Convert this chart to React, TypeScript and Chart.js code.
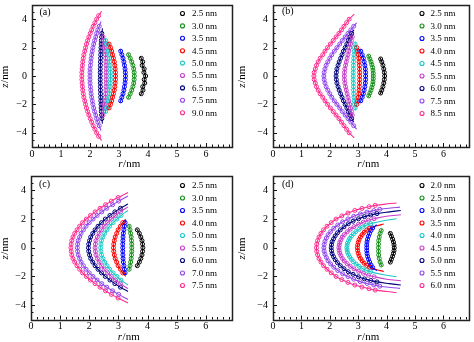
import React, { useEffect, useRef } from 'react';
import { Chart, registerables } from 'chart.js';
Chart.register(...registerables);

type P = [number, number]; // [r (nm), z (nm)]

const X_TICKS = [0, 1, 2, 3, 4, 5, 6];
const Y_TICKS = [-4, -2, 0, 2, 4];
const X_MIN = 0, X_MAX = 6.9, Y_MIN = -5, Y_MAX = 5;
const COLORS = ['#000000', '#17901a', '#0000ff', '#ff0000', '#1ec8c8', '#c83cc8', '#00007e', '#9147ec', '#ff2d8f'];

// ---------------- panel (a) ----------------
const A_LABELS = ['2.5 nm', '3.0 nm', '3.5 nm', '4.5 nm', '5.0 nm', '5.5 nm', '6.5 nm', '7.5 nm', '9.0 nm'];
const A_25: P[] = [[3.77,1.25],[3.82,1.0],[3.80,0.75],[3.87,0.5],[3.86,0.25],[3.92,0],[3.87,-0.25],[3.89,-0.5],[3.82,-0.75],[3.83,-1.0],[3.77,-1.25]];
const A_30: P[] = [[3.33,1.5],[3.39,1.25],[3.44,1.0],[3.48,0.75],[3.51,0.5],[3.525,0.25],[3.53,0],[3.525,-0.25],[3.51,-0.5],[3.48,-0.75],[3.44,-1.0],[3.39,-1.25],[3.33,-1.5]];
const A_35: P[] = [[3.06,1.75],[3.10,1.5],[3.14,1.25],[3.17,1.0],[3.19,0.75],[3.21,0.5],[3.22,0.25],[3.225,0],[3.22,-0.25],[3.21,-0.5],[3.19,-0.75],[3.17,-1.0],[3.14,-1.25],[3.10,-1.5],[3.06,-1.75]];
const A_45: P[] = [[2.66,2.25],[2.71,2.0],[2.75,1.75],[2.78,1.5],[2.81,1.25],[2.84,1.0],[2.86,0.75],[2.87,0.5],[2.88,0.25],[2.88,0],[2.88,-0.25],[2.87,-0.5],[2.86,-0.75],[2.84,-1.0],[2.81,-1.25],[2.78,-1.5],[2.75,-1.75],[2.71,-2.0],[2.66,-2.25]];
const A_50: P[] = [[2.54,2.5],[2.57,2.25],[2.60,2.0],[2.63,1.75],[2.65,1.5],[2.67,1.25],[2.68,1.0],[2.695,0.75],[2.70,0.5],[2.71,0.25],[2.71,0],[2.71,-0.25],[2.70,-0.5],[2.695,-0.75],[2.68,-1.0],[2.67,-1.25],[2.65,-1.5],[2.63,-1.75],[2.60,-2.0],[2.57,-2.25],[2.54,-2.5]];
const A_55: P[] = [[2.45,2.75],[2.47,2.5],[2.49,2.25],[2.50,2.0],[2.52,1.75],[2.53,1.5],[2.54,1.25],[2.55,1.0],[2.555,0.75],[2.56,0.5],[2.56,0.25],[2.56,0],[2.56,-0.25],[2.56,-0.5],[2.555,-0.75],[2.55,-1.0],[2.54,-1.25],[2.53,-1.5],[2.52,-1.75],[2.50,-2.0],[2.49,-2.25],[2.47,-2.5],[2.45,-2.75]];
const A_65: P[] = [[2.41,3.0],[2.40,2.75],[2.39,2.5],[2.385,2.25],[2.38,2.0],[2.375,1.75],[2.37,1.5],[2.365,1.25],[2.36,1.0],[2.36,0.75],[2.355,0.5],[2.355,0.25],[2.355,0],[2.355,-0.25],[2.355,-0.5],[2.36,-0.75],[2.36,-1.0],[2.365,-1.25],[2.37,-1.5],[2.375,-1.75],[2.38,-2.0],[2.385,-2.25],[2.39,-2.5],[2.40,-2.75],[2.41,-3.0]];
const A_75: P[] = [[2.32,3.5],[2.27,3.25],[2.23,3.0],[2.20,2.75],[2.16,2.5],[2.13,2.25],[2.10,2.0],[2.08,1.75],[2.06,1.5],[2.04,1.25],[2.03,1.0],[2.015,0.75],[2.005,0.5],[2.0,0.25],[2.0,0],[2.0,-0.25],[2.005,-0.5],[2.015,-0.75],[2.03,-1.0],[2.04,-1.25],[2.06,-1.5],[2.08,-1.75],[2.10,-2.0],[2.13,-2.25],[2.16,-2.5],[2.20,-2.75],[2.23,-3.0],[2.27,-3.25],[2.32,-3.5]];
const A_90: P[] = [[2.30,4.25],[2.23,4.0],[2.17,3.75],[2.11,3.5],[2.06,3.25],[2.01,3.0],[1.96,2.75],[1.92,2.5],[1.88,2.25],[1.85,2.0],[1.82,1.75],[1.79,1.5],[1.77,1.25],[1.75,1.0],[1.74,0.75],[1.73,0.5],[1.72,0.25],[1.72,0],[1.72,-0.25],[1.73,-0.5],[1.74,-0.75],[1.75,-1.0],[1.77,-1.25],[1.79,-1.5],[1.82,-1.75],[1.85,-2.0],[1.88,-2.25],[1.92,-2.5],[1.96,-2.75],[2.01,-3.0],[2.06,-3.25],[2.11,-3.5],[2.17,-3.75],[2.23,-4.0],[2.30,-4.25]];
const A_POINTS = [A_25, A_30, A_35, A_45, A_50, A_55, A_65, A_75, A_90];
const A_FIT_TOP: P[][] = [[[3.74,1.35]],[[3.30,1.62]],[[3.03,1.88]],[[2.63,2.4]],[[2.51,2.65]],[[2.43,2.95]],[[2.43,3.35]],[[2.38,3.85]],[[2.40,4.55]]];
const A_FIT_BOT: P[][] = [[[3.74,-1.35]],[[3.30,-1.62]],[[3.03,-1.88]],[[2.63,-2.4]],[[2.51,-2.65]],[[2.43,-2.95]],[[2.43,-3.35]],[[2.38,-3.85]],[[2.40,-4.55]]];

// ---------------- panel (b) ----------------
const B_LABELS = ['2.5 nm', '3.0 nm', '3.5 nm', '4.0 nm', '4.5 nm', '5.5 nm', '6.0 nm', '7.5 nm', '8.5 nm'];
const B_25: P[] = [[3.79,1.2],[3.83,1.0],[3.87,0.75],[3.90,0.5],[3.92,0.25],[3.93,0],[3.92,-0.25],[3.90,-0.5],[3.87,-0.75],[3.83,-1.0],[3.79,-1.2]];
const B_30: P[] = [[3.37,1.4],[3.41,1.2],[3.45,1.0],[3.48,0.8],[3.51,0.6],[3.52,0.4],[3.53,0.2],[3.53,0],[3.53,-0.2],[3.52,-0.4],[3.51,-0.6],[3.48,-0.8],[3.45,-1.0],[3.41,-1.2],[3.37,-1.4]];
const B_35: P[] = [[3.09,1.75],[3.14,1.5],[3.18,1.25],[3.21,1.0],[3.235,0.75],[3.25,0.5],[3.26,0.25],[3.26,0],[3.26,-0.25],[3.25,-0.5],[3.235,-0.75],[3.21,-1.0],[3.18,-1.25],[3.14,-1.5],[3.09,-1.75]];
const B_40: P[] = [[2.95,2.0],[2.98,1.75],[3.0,1.5],[3.02,1.25],[3.03,1.0],[3.04,0.75],[3.045,0.5],[3.05,0.25],[3.05,0],[3.05,-0.25],[3.045,-0.5],[3.04,-0.75],[3.03,-1.0],[3.02,-1.25],[3.0,-1.5],[2.98,-1.75],[2.95,-2.0]];
const B_45: P[] = [[2.89,2.25],[2.87,2.0],[2.86,1.75],[2.85,1.5],[2.84,1.25],[2.835,1.0],[2.83,0.75],[2.83,0.5],[2.825,0.25],[2.825,0],[2.825,-0.25],[2.83,-0.5],[2.83,-0.75],[2.835,-1.0],[2.84,-1.25],[2.85,-1.5],[2.86,-1.75],[2.87,-2.0],[2.89,-2.25]];
const B_55: P[] = [[2.79,2.75],[2.76,2.5],[2.73,2.25],[2.70,2.0],[2.67,1.75],[2.64,1.5],[2.61,1.25],[2.58,1.0],[2.555,0.75],[2.53,0.5],[2.515,0.25],[2.51,0],[2.515,-0.25],[2.53,-0.5],[2.555,-0.75],[2.58,-1.0],[2.61,-1.25],[2.64,-1.5],[2.67,-1.75],[2.70,-2.0],[2.73,-2.25],[2.76,-2.5],[2.79,-2.75]];
const B_60: P[] = [[2.77,3.0],[2.71,2.75],[2.65,2.5],[2.60,2.25],[2.54,2.0],[2.48,1.75],[2.43,1.5],[2.38,1.25],[2.33,1.0],[2.29,0.75],[2.25,0.5],[2.23,0.25],[2.22,0],[2.23,-0.25],[2.25,-0.5],[2.29,-0.75],[2.33,-1.0],[2.38,-1.25],[2.43,-1.5],[2.48,-1.75],[2.54,-2.0],[2.60,-2.25],[2.65,-2.5],[2.71,-2.75],[2.77,-3.0]];
const B_75: P[] = [[2.84,3.5],[2.74,3.25],[2.64,3.0],[2.54,2.75],[2.44,2.5],[2.35,2.25],[2.25,2.0],[2.16,1.75],[2.07,1.5],[2.0,1.25],[1.93,1.0],[1.87,0.75],[1.83,0.5],[1.80,0.25],[1.79,0],[1.80,-0.25],[1.83,-0.5],[1.87,-0.75],[1.93,-1.0],[2.0,-1.25],[2.07,-1.5],[2.16,-1.75],[2.25,-2.0],[2.35,-2.25],[2.44,-2.5],[2.54,-2.75],[2.64,-3.0],[2.74,-3.25],[2.84,-3.5]];
const B_85: P[] = [[2.68,4.0],[2.59,3.75],[2.50,3.5],[2.41,3.25],[2.32,3.0],[2.22,2.75],[2.12,2.5],[2.02,2.25],[1.92,2.0],[1.83,1.75],[1.75,1.5],[1.66,1.25],[1.59,1.0],[1.53,0.75],[1.49,0.5],[1.45,0.25],[1.44,0],[1.45,-0.25],[1.49,-0.5],[1.53,-0.75],[1.59,-1.0],[1.66,-1.25],[1.75,-1.5],[1.83,-1.75],[1.92,-2.0],[2.02,-2.25],[2.12,-2.5],[2.22,-2.75],[2.32,-3.0],[2.41,-3.25],[2.50,-3.5],[2.59,-3.75],[2.68,-4.0]];
const B_POINTS = [B_25, B_30, B_35, B_40, B_45, B_55, B_60, B_75, B_85];
const B_FIT_TOP: P[][] = [[[3.76,1.3]],[[3.34,1.5]],[[3.06,1.88]],[[2.93,2.15]],[[2.91,2.4]],[[2.83,3.0]],[[2.85,3.25]],[[2.95,3.75]],[[2.86,4.35]]];
const B_FIT_BOT: P[][] = [[[3.76,-1.3]],[[3.34,-1.5]],[[3.06,-1.88]],[[2.93,-2.15]],[[2.91,-2.4]],[[2.83,-3.0]],[[2.85,-3.25]],[[2.95,-3.75]],[[2.86,-4.35]]];

// ---------------- panel (c) ----------------
const C_LABELS = ['2.5 nm', '3.0 nm', '3.5 nm', '4.0 nm', '5.0 nm', '5.5 nm', '6.0 nm', '7.0 nm', '7.5 nm'];
const C_25: P[] = [[3.65,1.25],[3.72,1.0],[3.77,0.75],[3.81,0.5],[3.83,0.25],[3.84,0],[3.83,-0.25],[3.81,-0.5],[3.77,-0.75],[3.72,-1.0],[3.65,-1.25]];
const C_30: P[] = [[3.37,1.5],[3.40,1.25],[3.42,1.0],[3.44,0.75],[3.45,0.5],[3.46,0.25],[3.46,0],[3.46,-0.25],[3.45,-0.5],[3.44,-0.75],[3.42,-1.0],[3.40,-1.25],[3.37,-1.5]];
const C_35: P[] = [[3.23,1.75],[3.21,1.5],[3.19,1.25],[3.17,1.0],[3.16,0.75],[3.155,0.5],[3.15,0.25],[3.15,0],[3.15,-0.25],[3.155,-0.5],[3.16,-0.75],[3.17,-1.0],[3.19,-1.25],[3.21,-1.5],[3.23,-1.75]];
const C_40: P[] = [[3.15,1.75],[3.07,1.5],[2.99,1.25],[2.94,1.0],[2.89,0.75],[2.86,0.5],[2.84,0.25],[2.83,0],[2.84,-0.25],[2.86,-0.5],[2.89,-0.75],[2.94,-1.0],[2.99,-1.25],[3.07,-1.5],[3.15,-1.75]];
const C_50: P[] = [[3.09,2.25],[2.95,2.0],[2.82,1.75],[2.70,1.5],[2.61,1.25],[2.53,1.0],[2.47,0.75],[2.42,0.5],[2.40,0.25],[2.39,0],[2.40,-0.25],[2.42,-0.5],[2.47,-0.75],[2.53,-1.0],[2.61,-1.25],[2.70,-1.5],[2.82,-1.75],[2.95,-2.0],[3.09,-2.25]];
const C_55: P[] = [[3.07,2.5],[2.90,2.25],[2.76,2.0],[2.63,1.75],[2.51,1.5],[2.42,1.25],[2.34,1.0],[2.28,0.75],[2.23,0.5],[2.21,0.25],[2.20,0],[2.21,-0.25],[2.23,-0.5],[2.28,-0.75],[2.34,-1.0],[2.42,-1.25],[2.51,-1.5],[2.63,-1.75],[2.76,-2.0],[2.90,-2.25],[3.07,-2.5]];
const C_60: P[] = [[3.07,2.75],[2.88,2.5],[2.71,2.25],[2.55,2.0],[2.42,1.75],[2.30,1.5],[2.20,1.25],[2.12,1.0],[2.05,0.75],[2.01,0.5],[1.98,0.25],[1.97,0],[1.98,-0.25],[2.01,-0.5],[2.05,-0.75],[2.12,-1.0],[2.20,-1.25],[2.30,-1.5],[2.42,-1.75],[2.55,-2.0],[2.71,-2.25],[2.88,-2.5],[3.07,-2.75]];
const C_70: P[] = [[3.01,3.25],[2.80,3.0],[2.60,2.75],[2.43,2.5],[2.27,2.25],[2.13,2.0],[2.0,1.75],[1.89,1.5],[1.80,1.25],[1.72,1.0],[1.67,0.75],[1.62,0.5],[1.60,0.25],[1.59,0],[1.60,-0.25],[1.62,-0.5],[1.67,-0.75],[1.72,-1.0],[1.80,-1.25],[1.89,-1.5],[2.0,-1.75],[2.13,-2.0],[2.27,-2.25],[2.43,-2.5],[2.60,-2.75],[2.80,-3.0],[3.01,-3.25]];
const C_75: P[] = [[2.99,3.5],[2.76,3.25],[2.56,3.0],[2.37,2.75],[2.20,2.5],[2.04,2.25],[1.90,2.0],[1.77,1.75],[1.67,1.5],[1.58,1.25],[1.50,1.0],[1.44,0.75],[1.40,0.5],[1.38,0.25],[1.37,0],[1.38,-0.25],[1.40,-0.5],[1.44,-0.75],[1.50,-1.0],[1.58,-1.25],[1.67,-1.5],[1.77,-1.75],[1.90,-2.0],[2.04,-2.25],[2.20,-2.5],[2.37,-2.75],[2.56,-3.0],[2.76,-3.25],[2.99,-3.5]];
const C_POINTS = [C_25, C_30, C_35, C_40, C_50, C_55, C_60, C_70, C_75];
const C_FIT_TOP: P[][] = [[[3.62,1.32]],[[3.36,1.6]],[[3.26,1.9]],[[3.25,2.0]],[[3.33,2.6]],[[3.33,2.85]],[[3.33,3.05]],[[3.33,3.6]],[[3.33,3.85]]];
const C_FIT_BOT: P[][] = [[[3.62,-1.32]],[[3.36,-1.6]],[[3.26,-1.9]],[[3.25,-2.0]],[[3.33,-2.6]],[[3.33,-2.85]],[[3.33,-3.05]],[[3.33,-3.6]],[[3.33,-3.85]]];

// ---------------- panel (d) ----------------
const D_LABELS = ['2.0 nm', '2.5 nm', '3.0 nm', '3.5 nm', '4.0 nm', '4.5 nm', '5.0 nm', '5.5 nm', '6.0 nm'];
const D_20: P[] = [[4.13,1.0],[4.17,0.8],[4.21,0.6],[4.24,0.4],[4.26,0.2],[4.27,0],[4.26,-0.2],[4.24,-0.4],[4.21,-0.6],[4.17,-0.8],[4.13,-1.0]];
const D_25: P[] = [[3.81,1.2],[3.77,1.0],[3.74,0.75],[3.72,0.5],[3.715,0.25],[3.71,0],[3.715,-0.25],[3.72,-0.5],[3.74,-0.75],[3.77,-1.0],[3.81,-1.2]];
const D_30: P[] = [[3.51,1.38],[3.45,1.2],[3.40,1.0],[3.36,0.8],[3.33,0.6],[3.31,0.4],[3.30,0.2],[3.30,0],[3.30,-0.2],[3.31,-0.4],[3.33,-0.6],[3.36,-0.8],[3.40,-1.0],[3.45,-1.2],[3.51,-1.38]];
const D_35: P[] = [[3.40,1.35],[3.30,1.23],[3.21,1.08],[3.14,0.92],[3.08,0.75],[3.03,0.57],[3.0,0.38],[2.98,0.19],[2.97,0],[2.98,-0.19],[3.0,-0.38],[3.03,-0.57],[3.08,-0.75],[3.14,-0.92],[3.21,-1.08],[3.30,-1.23],[3.40,-1.35]];
const D_40: P[] = [[3.44,1.68],[3.29,1.57],[3.15,1.44],[3.03,1.29],[2.92,1.13],[2.83,0.97],[2.76,0.81],[2.70,0.65],[2.66,0.49],[2.62,0.32],[2.61,0.16],[2.60,0],[2.61,-0.16],[2.62,-0.32],[2.66,-0.49],[2.70,-0.65],[2.76,-0.81],[2.83,-0.97],[2.92,-1.13],[3.03,-1.29],[3.15,-1.44],[3.29,-1.57],[3.44,-1.68]];
const D_45: P[] = [[3.56,2.02],[3.36,1.92],[3.18,1.78],[3.01,1.64],[2.85,1.47],[2.72,1.29],[2.61,1.11],[2.51,0.92],[2.44,0.74],[2.39,0.55],[2.35,0.37],[2.33,0.18],[2.32,0],[2.33,-0.18],[2.35,-0.37],[2.39,-0.55],[2.44,-0.74],[2.51,-0.92],[2.61,-1.11],[2.72,-1.29],[2.85,-1.47],[3.01,-1.64],[3.18,-1.78],[3.36,-1.92],[3.56,-2.02]];
const D_50: P[] = [[3.66,2.38],[3.44,2.28],[3.22,2.17],[3.01,2.02],[2.82,1.85],[2.65,1.67],[2.50,1.46],[2.37,1.25],[2.27,1.04],[2.19,0.83],[2.13,0.62],[2.08,0.42],[2.06,0.21],[2.05,0],[2.06,-0.21],[2.08,-0.42],[2.13,-0.62],[2.19,-0.83],[2.27,-1.04],[2.37,-1.25],[2.50,-1.46],[2.65,-1.67],[2.82,-1.85],[3.01,-2.02],[3.22,-2.17],[3.44,-2.28],[3.66,-2.38]];
const D_55: P[] = [[3.76,2.68],[3.55,2.59],[3.31,2.49],[3.07,2.36],[2.84,2.19],[2.64,2.01],[2.45,1.81],[2.28,1.59],[2.14,1.36],[2.03,1.13],[1.94,0.91],[1.88,0.68],[1.83,0.45],[1.80,0.23],[1.79,0],[1.80,-0.23],[1.83,-0.45],[1.88,-0.68],[1.94,-0.91],[2.03,-1.13],[2.14,-1.36],[2.28,-1.59],[2.45,-1.81],[2.64,-2.01],[2.84,-2.19],[3.07,-2.36],[3.31,-2.49],[3.55,-2.59],[3.76,-2.68]];
const D_60: P[] = [[3.60,2.95],[3.38,2.86],[3.13,2.74],[2.88,2.60],[2.64,2.42],[2.42,2.22],[2.22,2.0],[2.05,1.75],[1.90,1.5],[1.78,1.25],[1.69,1.0],[1.62,0.75],[1.57,0.5],[1.54,0.25],[1.53,0],[1.54,-0.25],[1.57,-0.5],[1.62,-0.75],[1.69,-1.0],[1.78,-1.25],[1.90,-1.5],[2.05,-1.75],[2.22,-2.0],[2.42,-2.22],[2.64,-2.42],[2.88,-2.60],[3.13,-2.74],[3.38,-2.86],[3.60,-2.95]];
const D_POINTS = [D_20, D_25, D_30, D_35, D_40, D_45, D_50, D_55, D_60];
const D_FIT_TOP: P[][] = [[[4.10,1.1]],[[3.84,1.3]],[[3.65,1.6]],[[3.90,1.65],[3.65,1.53]],[[4.35,2.02],[3.85,1.87]],[[4.50,2.30],[4.00,2.19]],[[4.50,2.60],[4.10,2.50]],[[4.47,2.83],[4.14,2.77]],[[4.35,3.12],[4.0,3.05]]];
const D_FIT_BOT: P[][] = [[[4.10,-1.1]],[[3.84,-1.3]],[[3.65,-1.6]],[[3.65,-1.53],[3.90,-1.65]],[[3.85,-1.87],[4.35,-2.02]],[[4.00,-2.19],[4.50,-2.30]],[[4.10,-2.50],[4.50,-2.60]],[[4.14,-2.77],[4.47,-2.83]],[[4.0,-3.05],[4.35,-3.12]]];

// ---------------- layout (styling only) ----------------
const W = 237, H = 171;
type Panel = {
  tag: string; labels: string[]; points: P[][]; fitTop: P[][]; fitBot: P[][];
  left: number; top: number;
  area: { l: number; r: number; t: number; b: number };
  leg: { mx: number; tx: number; y0: number; dy: number };
  tagPos: { x: number; y: number };
};
const PANELS: Panel[] = [
  { tag: '(a)', labels: A_LABELS, points: A_POINTS, fitTop: A_FIT_TOP, fitBot: A_FIT_BOT, left: 0, top: 0,
    area: { l: 32, r: 232, t: 1, b: 147 }, leg: { mx: 182.5, tx: 192, y0: 13.5, dy: 12.4 }, tagPos: { x: 39.5, y: 12.3 } },
  { tag: '(b)', labels: B_LABELS, points: B_POINTS, fitTop: B_FIT_TOP, fitBot: B_FIT_BOT, left: 237, top: 0,
    area: { l: 36, r: 236, t: 1.5, b: 147 }, leg: { mx: 185, tx: 193.5, y0: 13.5, dy: 12.5 }, tagPos: { x: 45, y: 11.8 } },
  { tag: '(c)', labels: C_LABELS, points: C_POINTS, fitTop: C_FIT_TOP, fitBot: C_FIT_BOT, left: 0, top: 171,
    area: { l: 31, r: 232, t: 3.5, b: 148.5 }, leg: { mx: 182.5, tx: 192, y0: 14.5, dy: 12.5 }, tagPos: { x: 39, y: 13.3 } },
  { tag: '(d)', labels: D_LABELS, points: D_POINTS, fitTop: D_FIT_TOP, fitBot: D_FIT_BOT, left: 237, top: 171,
    area: { l: 36, r: 236, t: 3.5, b: 148.5 }, leg: { mx: 185, tx: 193.5, y0: 14.5, dy: 12.5 }, tagPos: { x: 45, y: 13.3 } },
];

const SERIF = '"Liberation Serif", "DejaVu Serif", serif';
const INK = '#000000';

const decorPlugin = {
  id: 'decor',
  afterDatasetsDraw(chart: any, _a: any, opts: any) {
    const { ctx, chartArea: ca, scales } = chart;
    const xs = scales.x, ys = scales.y;
    ctx.save();
    ctx.strokeStyle = '#111';
    ctx.lineWidth = 1;
    // inward tick marks
    ctx.beginPath();
    for (let i = 0; i <= 34; i++) {
      const px = Math.round(xs.getPixelForValue(i * 0.2)) + 0.5;
      const len = i % 5 === 0 ? 4 : 2.5;
      ctx.moveTo(px, ca.bottom); ctx.lineTo(px, ca.bottom - len);
    }
    for (let i = -9; i <= 9; i++) {
      const py = Math.round(ys.getPixelForValue(i * 0.5)) + 0.5;
      const len = i % 4 === 0 ? 4 : 2.5;
      ctx.moveTo(ca.left, py); ctx.lineTo(ca.left + len, py);
    }
    ctx.stroke();
    // frame
    ctx.lineWidth = 1.5;
    ctx.strokeStyle = '#222';
    ctx.strokeRect(Math.round(ca.left) + 0.5, Math.round(ca.top) + 0.5, Math.round(ca.right - ca.left), Math.round(ca.bottom - ca.top));
    // legend
    const leg = opts.leg;
    ctx.font = `9px ${SERIF}`;
    ctx.textBaseline = 'middle';
    ctx.textAlign = 'left';
    let k = 0;
    chart.data.datasets.forEach((ds: any) => {
      if (!ds.label) return;
      const y = leg.y0 + k * leg.dy;
      ctx.beginPath();
      ctx.lineWidth = 1.1;
      ctx.strokeStyle = ds.borderColor;
      ctx.arc(leg.mx, y, 2, 0, Math.PI * 2);
      ctx.stroke();
      ctx.fillStyle = INK;
      ctx.fillText(ds.label, leg.tx, y + 0.5);
      k++;
    });
    // panel tag
    ctx.font = `10px ${SERIF}`;
    ctx.fillText(opts.tag, opts.tagPos.x, opts.tagPos.y);
    // axis titles with italic variable
    const drawTitle = (v: string, rest: string) => {
      ctx.font = `italic 11px ${SERIF}`;
      const w1 = ctx.measureText(v).width;
      ctx.font = `11px ${SERIF}`;
      const w2 = ctx.measureText(rest).width;
      const x0 = -(w1 + w2) / 2;
      ctx.font = `italic 11px ${SERIF}`;
      ctx.fillText(v, x0, 0);
      ctx.font = `11px ${SERIF}`;
      ctx.fillText(rest, x0 + w1 + 0.5, 0);
    };
    ctx.fillStyle = INK;
    ctx.textBaseline = 'middle';
    ctx.save();
    ctx.translate((ca.left + ca.right) / 2 - 3, ca.bottom + 17.5);
    drawTitle('r', '/nm');
    ctx.restore();
    ctx.save();
    ctx.translate(5.5, (ca.top + ca.bottom) / 2 + 1);
    ctx.rotate(-Math.PI / 2);
    drawTitle('z', '/nm');
    ctx.restore();
    ctx.restore();
  },
};

function toXY(pts: P[]) {
  return pts.map(([r, z]) => ({ x: r, y: z }));
}

function PanelChart({ p }: { p: Panel }) {
  const ref = useRef<HTMLCanvasElement | null>(null);
  useEffect(() => {
    if (!ref.current) return;
    const lineSets = p.points.map((pts, i) => ({
      label: '',
      data: toXY([...p.fitTop[i], ...pts, ...p.fitBot[i]]),
      showLine: true,
      borderColor: COLORS[i],
      borderWidth: 1.1,
      pointRadius: 0,
      tension: 0.35,
      fill: false,
    }));
    const pointSets = p.points.map((pts, i) => ({
      label: p.labels[i],
      data: toXY(pts),
      showLine: false,
      borderColor: COLORS[i],
      backgroundColor: 'rgba(0,0,0,0)',
      borderWidth: 1,
      pointRadius: 2,
      pointStyle: 'circle',
    }));
    const tickFont = { family: SERIF, size: 10 };
    const chart = new Chart(ref.current, {
      type: 'scatter',
      data: { datasets: [...pointSets, ...lineSets] as any },
      options: {
        animation: false,
        responsive: false,
        devicePixelRatio: 1,
        events: [],
        layout: { padding: { left: 0, top: p.area.t, right: W - p.area.r, bottom: 0 } },
        scales: {
          x: {
            type: 'linear', min: X_MIN, max: X_MAX,
            afterFit: (s: any) => { s.height = H - p.area.b; s.paddingLeft = 0; s.paddingRight = 0; },
            afterBuildTicks: (s: any) => { s.ticks = X_TICKS.map((v) => ({ value: v })); },
            ticks: { font: tickFont, color: INK, padding: 1, maxRotation: 0, autoSkip: false, callback: (v: any) => String(v) },
            grid: { display: false, drawTicks: false },
            border: { display: false },
          },
          y: {
            type: 'linear', min: Y_MIN, max: Y_MAX,
            afterFit: (s: any) => { s.width = p.area.l; s.paddingTop = 0; s.paddingBottom = 0; },
            afterBuildTicks: (s: any) => { s.ticks = Y_TICKS.map((v) => ({ value: v })); },
            ticks: { font: tickFont, color: INK, padding: 5, autoSkip: false,
              callback: (v: any) => (Number(v) < 0 ? '\u2212' + Math.abs(Number(v)) : String(v)) },
            grid: { display: false, drawTicks: false },
            border: { display: false },
          },
        },
        plugins: {
          legend: { display: false },
          tooltip: { enabled: false },
          decor: { leg: p.leg, tag: p.tag, tagPos: p.tagPos },
        } as any,
      },
      plugins: [decorPlugin as any],
    });
    return () => chart.destroy();
  }, [p]);
  return (
    <canvas ref={ref} width={W} height={H}
      style={{ position: 'absolute', left: p.left, top: p.top, width: W, height: H }} />
  );
}

export default function App() {
  return (
    <div style={{ position: 'absolute', left: 0, top: 0, width: 474, height: 342, background: '#fff', overflow: 'hidden' }}>
      {PANELS.map((p) => <PanelChart key={p.tag} p={p} />)}
    </div>
  );
}
